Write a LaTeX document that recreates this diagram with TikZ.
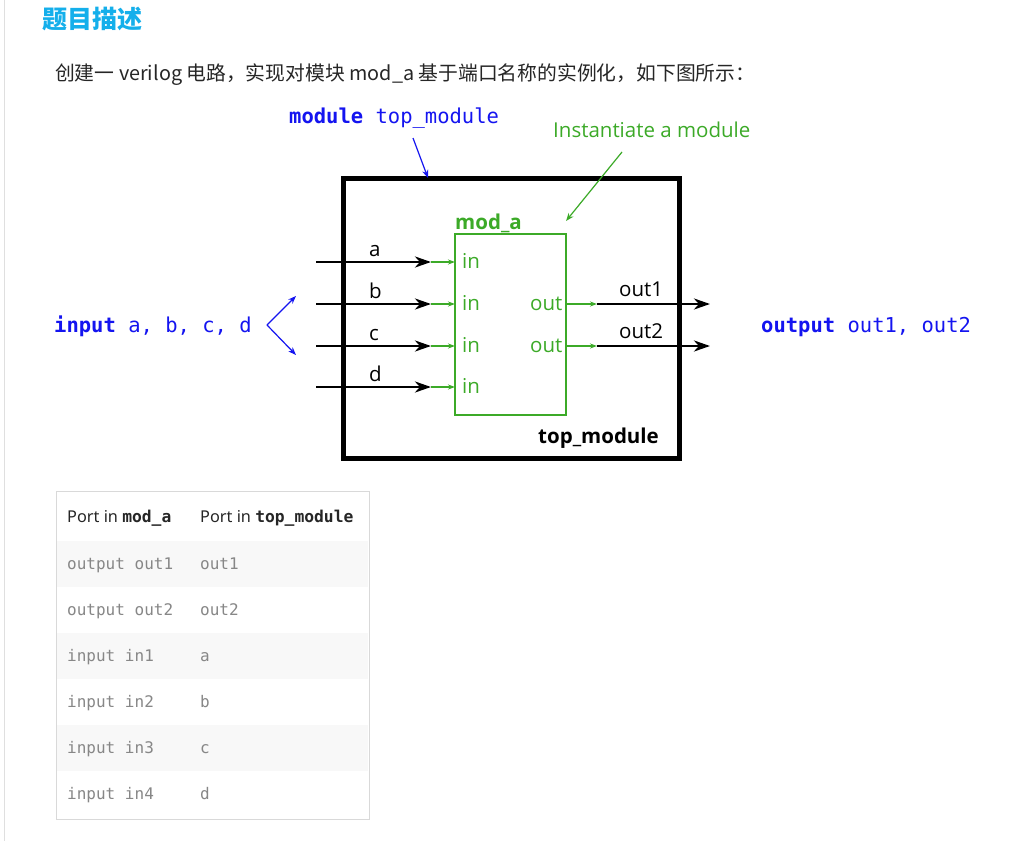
\documentclass[tikz,border=0pt]{standalone}
\usepackage{fontspec}
\setmainfont{Open Sans}
\newfontfamily\cjk{Noto Sans CJK SC}
\newfontfamily\mono{DejaVu Sans Mono}
\newfontfamily\nsans{Noto Sans}
\usetikzlibrary{arrows.meta}
\definecolor{vblue}{RGB}{20,20,240}
\definecolor{vgreen}{RGB}{60,170,40}
\definecolor{ttl}{RGB}{20,175,235}
\definecolor{rowbg}{RGB}{248,248,248}
\definecolor{tgray}{RGB}{135,135,135}
\begin{document}
\begin{tikzpicture}[x=1pt,y=-1pt,
  lbl/.style={inner sep=0pt,anchor=base west},
  big/.style={font=\fontsize{20.5}{22}\selectfont},
  bw/.style={line width=2.8pt,-{Stealth[length=16pt,width=11pt,inset=5pt]}},
  gw/.style={vgreen,line width=1.2pt,-{Stealth[length=7pt,width=5pt]}},
  cell/.style={lbl,font=\mono\fontsize{16}{18}\selectfont,text=tgray}]
\useasboundingbox (0,0) rectangle (1021,841);
\fill[white] (0,0) rectangle (1021,841);
\draw[gray!25,line width=1pt] (4,0) -- (4,841);
\node[lbl,font=\cjk\bfseries\fontsize{25}{28}\selectfont,text=ttl] (title) at (42,28) {题目描述};
\node[lbl,font=\cjk\fontsize{19.8}{21}\selectfont,text=black!85] (desc) at (55,80) {创建一 verilog 电路，实现对模块 mod\_a 基于端口名称的实例化，如下图所示：};
% top labels
\node[lbl,font=\mono\fontsize{20.5}{22}\selectfont,text=vblue] (modl) at (289,123) {\textbf{module} top\_module};
\node[lbl,big,text=vgreen] (inst) at (553,137) {Instantiate a module};
% boxes
\draw[line width=5pt] (343,178) rectangle (679,458);
\node[draw=vgreen,line width=2.5pt,minimum width=111pt,minimum height=181pt,inner sep=0pt] (moda) at (510.5,324.5) {};
\node[lbl,font=\bfseries\fontsize{20.5}{22}\selectfont,text=vgreen] (modname) at (455,229) {mod\_a};
\node[lbl,font=\bfseries\fontsize{20.5}{22}\selectfont] (topname) at (538,443) {top\_module};
\coordinate (tm) at (428,178);
\coordinate (ma) at (566,221);
\draw[vblue,line width=1.2pt,-{Stealth[length=8pt,width=6pt]}] (413,138) -- (tm);
\draw[vgreen,line width=1.2pt,-{Stealth[length=8pt,width=6pt]}] (622,152) -- (ma);
% inputs
\foreach \n/\y in {a/262,b/304,c/346,d/387}{
  \coordinate (s\n) at (316,\y);
  \coordinate (m\n) at (431,\y);
  \coordinate (p\n) at (455,\y);
  \draw[bw] (s\n) -- (m\n);
  \draw[gw] (m\n) -- (p\n);
  \node[lbl,big] (l\n) at (369,\y-6) {\n};
  \node[lbl,big,text=vgreen] (i\n) at (462,\y+6) {in};
}
% outputs
\foreach \n/\y in {1/304,2/346}{
  \coordinate (q\n) at (566,\y);
  \coordinate (r\n) at (597,\y);
  \coordinate (e\n) at (710,\y);
  \draw[gw] (q\n) -- (r\n);
  \draw[bw] (r\n) -- (e\n);
  \node[lbl,big] (lo\n) at (619,\y-8) {out\n};
  \node[lbl,big,text=vgreen] (o\n) at (530,\y+6) {out};
}
% side labels
\node[lbl,font=\mono\fontsize{20.5}{22}\selectfont,text=vblue] (inl) at (54,332) {\textbf{input} a, b, c, d};
\node[lbl,font=\mono\fontsize{20.5}{22}\selectfont,text=vblue] (outl) at (761,332) {\textbf{output} out1, out2};
\coordinate (v) at (267,325);
\coordinate (v1) at (296,296);
\coordinate (v2) at (296,355);
\draw[vblue,line width=1.2pt,-{Stealth[length=8pt,width=6pt]}] (v) -- (v1);
\draw[vblue,line width=1.2pt,-{Stealth[length=8pt,width=6pt]}] (v) -- (v2);
% table
\foreach \y in {541,633,725}{\fill[rowbg] (57,\y) rectangle (368,\y+46);}
\draw[gray!30,line width=1pt] (56,491) rectangle (369,819);
\node[lbl,font=\nsans\bfseries\fontsize{16.3}{18}\selectfont,text=black!85] (h1) at (67,522) {Port in {\mono mod\_a}};
\node[lbl,font=\nsans\bfseries\fontsize{16.3}{18}\selectfont,text=black!85] (h2) at (200,522) {Port in {\mono top\_module}};
\foreach \i/\p/\q in {0/output out1/out1,1/output out2/out2,2/input in1/a,3/input in2/b,4/input in3/c,5/input in4/d}{
  \node[cell] (c\i a) at (67,569+46*\i) {\p};
  \node[cell] (c\i b) at (200,569+46*\i) {\q};
}
\end{tikzpicture}
\end{document}
